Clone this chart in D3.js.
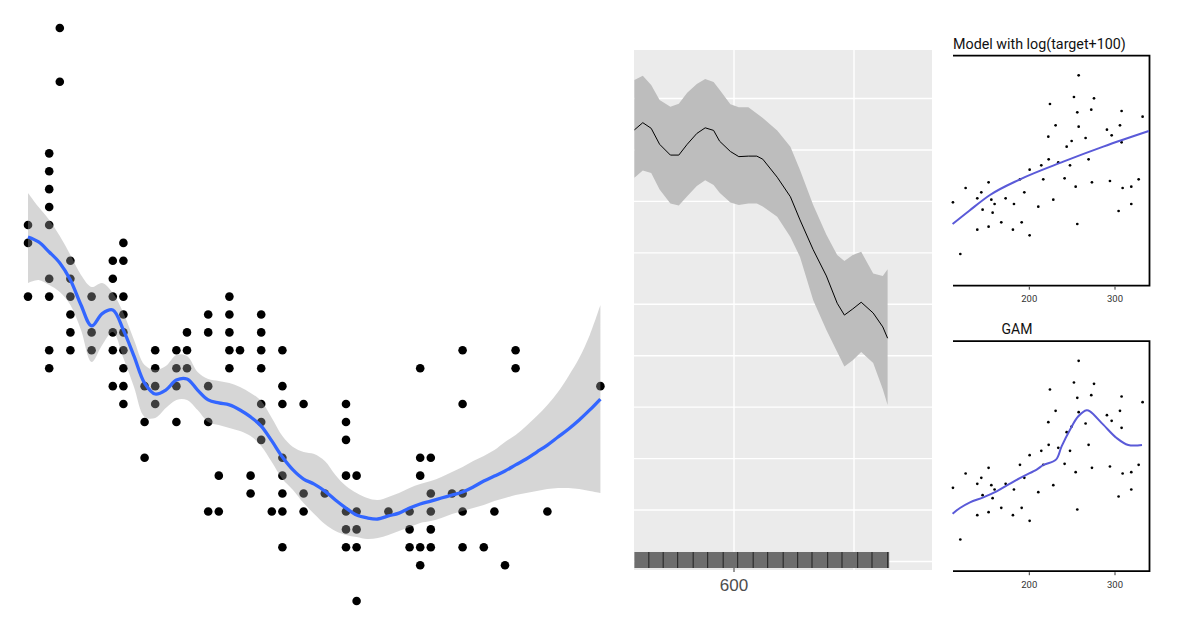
<!DOCTYPE html>
<html><head><meta charset="utf-8">
<script src="https://cdn.jsdelivr.net/npm/d3@7"></script>
<style>body{margin:0;background:#fff;}svg{display:block;}</style>
</head><body>
<script>
// ---------- Left panel: scatter + loess ----------
const leftCols = [0,2,3,4,6,8,9,11,12,14,15,17,18,19,20,21,22,23,24,26,28,30,31,34,36,37,38,40,41,43,44,45,46,49,54];
const leftVals = [
  [21,20,17],[25,24,23,22,21,18,17,14,13],[32,29],[19,18,17,16,15,14],[17,15,14],
  [19,18,17,15,14,12],[20,19,17,16,15,14,13,12,11],[12,10,8],[14,13,12,11],[14,13,12,10],
  [15,14,13],[16,15,12,10,5],[7,5],[17,16,15,14,13],[14],[7,6],[16,15,14,13,11,10,9],[5],
  [14,12,11,8,7,6,5,3],[11,6,5],[6],[11,10,9,7,5,4,3],[7,5,4,3,0],[5],[5,4,3],[13,8,7,3,2],
  [8,6,5,4,3],[6],[14,11,6,5,3],[3],[5],[2],[14,13],[5],[12]
];
const fitK = d3.range(0,55);
const fitL = [20.33,20.05,19.49,18.88,17.93,16.53,15.36,16.05,16.25,15.13,13.68,12.17,11.56,11.78,12.34,12.40,11.78,11.23,11.06,10.95,10.67,10.28,9.77,8.94,8.04,7.32,6.81,6.53,6.14,5.64,5.19,4.80,4.64,4.58,4.75,4.91,5.19,5.42,5.58,5.75,5.92,6.09,6.37,6.70,6.98,7.26,7.60,7.93,8.32,8.71,9.16,9.61,10.11,10.67,11.28];
const upL = [22.79,22.00,21.28,20.38,19.32,18.21,17.54,17.76,17.20,16.08,14.58,13.18,12.90,13.12,13.74,13.68,12.79,12.40,12.29,12.17,11.95,11.62,11.17,10.22,9.21,8.60,8.32,8.21,7.82,7.04,6.42,6.03,5.75,5.64,5.81,6.03,6.31,6.53,6.70,6.93,7.20,7.48,7.82,8.10,8.43,8.88,9.27,9.77,10.33,10.95,11.67,12.57,13.57,14.86,16.53];
const loL = [17.76,17.93,17.65,17.26,16.53,15.13,13.35,14.30,15.02,13.57,11.95,10.28,10.22,10.78,11.23,11.23,10.67,10.00,9.83,9.66,9.49,9.21,8.66,7.76,6.81,6.20,5.47,4.86,4.30,3.91,3.69,3.57,3.46,3.52,3.69,3.91,4.13,4.36,4.47,4.64,4.86,5.03,5.19,5.36,5.58,5.75,5.92,6.03,6.14,6.25,6.31,6.31,6.25,6.14,6.03];

// ---------- Middle panel: smooth with ribbon ----------
const xMid = [517,524,531,538,547,554,561,569,576,583,588,597,604,612,619,624,636,647,655,666,677,686,692,699,706,716,724,728];
const fitM = [8.39,8.53,8.42,8.11,7.90,7.90,8.11,8.32,8.43,8.38,8.17,7.97,7.87,7.88,7.88,7.82,7.47,7.09,6.64,6.06,5.55,5.02,4.79,4.91,5.04,4.83,4.56,4.34];
const upM = [9.36,9.44,9.26,8.97,8.84,8.90,9.11,9.28,9.38,9.32,9.17,8.89,8.83,8.83,8.71,8.62,8.38,8.06,7.61,6.93,6.35,5.96,5.84,5.96,6.02,5.60,5.55,5.68];
const loM = [7.46,7.60,7.55,7.23,6.96,6.92,7.10,7.30,7.41,7.32,7.17,6.98,6.93,6.96,6.96,6.90,6.70,6.31,5.92,5.08,4.50,4.07,3.79,3.91,4.07,3.86,3.35,3.04];
const rugX = [529,541,553,566,578,591,603,616,628,641,653,665,678,690,703,715,728];
const midGridY = [0,1,2,3,4,5,6,7,8,9];
const midGridX = [600,700];
const midTicks = [600];

// ---------- Right panels ----------
const ptsX = [257.6,252.1,275.5,224.1,256.0,272.3,307.7,332.2,230.7,257.6,290.6,305.8,296.1,222.2,265.7,249.4,307.7,243.6,222.6,269.2,233.8,214.0,247.5,200.4,189.1,216.3,241.2,273.1,294.1,327.6,125.7,152.5,254.1,308.9,319.0,194.2,144.0,139.3,155.7,172.4,228.0,110.9,159.5,182.1,145.5,157.2,210.5,319.0,304.2,167.3,191.1,256.0,139.3,152.5,180.9,200.4,119.5];
const ptsY = [420.7,377.4,374.7,363.4,346.7,352.1,349.4,338.1,320.7,318.1,312.1,320.7,300.7,298.1,295.4,289.4,286.7,278.1,252.7,252.7,246.7,240.7,240.7,232.1,212.7,212.7,214.7,206.7,209.4,212.7,195.4,206.7,198.1,195.4,198.1,186.7,186.7,174.7,172.1,174.7,172.1,166.7,163.4,163.4,152.1,146.1,158.1,163.4,149.4,126.7,126.7,123.4,112.1,118.1,112.1,100.7,63.4];
const logX = [110.5,130,154.1,189.1,239.7,286.3,339.6];
const logY = [123.4,150,181.4,212.7,248.1,278.1,309.4];
const gamX = [110.5,119.1,130.8,146.3,161.9,177.4,193.0,208.6,216.3,231.1,237.7,247.5,257.2,266.9,270.8,286.3,301.9,315.5,331.5];
const gamY = [115.1,126.4,137.8,147.8,159.8,175.1,189.8,203.1,212.4,223.1,249.8,283.1,309.8,321.8,319.8,293.1,266.4,252.4,252.4];
const rightTicks = [200,300];
const titles = ["Model with log(target+100)", "GAM"];

const svg = d3.select("body").append("svg").attr("width",1200).attr("height",630);

// ===== Left =====
const xL = d3.scaleLinear().domain([0,54]).range([28,600.4]);
const yL = d3.scaleLinear().domain([0,32]).range([601,28]);
const gL = svg.append("g");
const leftPts = [];
leftCols.forEach((k,i)=>leftVals[i].forEach(v=>leftPts.push([k,v])));
gL.selectAll("circle").data(leftPts).join("circle")
  .attr("cx",d=>xL(d[0])).attr("cy",d=>yL(d[1])).attr("r",4.3).attr("fill","#000");
gL.append("path").datum(fitK)
  .attr("d", d3.area().x(k=>xL(k)).y0((k,i)=>yL(loL[i])).y1((k,i)=>yL(upL[i])).curve(d3.curveCatmullRom))
  .attr("fill","#999999").attr("fill-opacity",0.4);
gL.append("path").datum(fitK)
  .attr("d", d3.line().x(k=>xL(k)).y((k,i)=>yL(fitL[i])).curve(d3.curveCatmullRom))
  .attr("fill","none").attr("stroke","#3366FF").attr("stroke-width",3.3);

// ===== Middle =====
const xM = d3.scaleLinear().domain([500,700]).range([614,854]);
const yM = d3.scaleLinear().domain([0,9]).range([561.5,98.5]);
const gM = svg.append("g");
const mLeft = 634, mRight = 932, mTop = 50, mBot = 570;
gM.append("rect").attr("x",mLeft).attr("y",mTop).attr("width",mRight-mLeft).attr("height",mBot-mTop).attr("fill","#ebebeb");
gM.selectAll("line.h").data(midGridY).join("line").attr("class","h")
  .attr("x1",mLeft).attr("x2",mRight).attr("y1",d=>yM(d)).attr("y2",d=>yM(d))
  .attr("stroke","#fff").attr("stroke-width",1.4);
gM.selectAll("line.v").data(midGridX).join("line").attr("class","v")
  .attr("x1",d=>xM(d)).attr("x2",d=>xM(d)).attr("y1",mTop).attr("y2",mBot)
  .attr("stroke","#fff").attr("stroke-width",1.4);
gM.append("path").datum(xMid)
  .attr("d", d3.area().x(x=>xM(x)).y0((x,i)=>yM(loM[i])).y1((x,i)=>yM(upM[i])).curve(d3.curveLinear))
  .attr("fill","#bdbdbd");
gM.append("path").datum(xMid)
  .attr("d", d3.line().x(x=>xM(x)).y((x,i)=>yM(fitM[i])).curve(d3.curveLinear))
  .attr("fill","none").attr("stroke","#000").attr("stroke-width",1);
gM.append("rect").attr("x",xM(517)).attr("y",552).attr("width",xM(729.3)-xM(517)).attr("height",16).attr("fill","#6d6d6d");
gM.selectAll("line.rug").data(rugX).join("line").attr("class","rug")
  .attr("x1",d=>xM(d)).attr("x2",d=>xM(d)).attr("y1",552).attr("y2",568)
  .attr("stroke","#2e2e2e").attr("stroke-width",1.2);
const mt = gM.selectAll("g.tick").data(midTicks).join("g").attr("class","tick")
  .attr("transform",d=>`translate(${xM(d)},0)`);
mt.append("line").attr("y1",568).attr("y2",572).attr("stroke","#333").attr("stroke-width",1);
mt.append("text").attr("y",591).attr("text-anchor","middle")
  .attr("font-family","Liberation Sans, Arial, sans-serif").attr("font-size",17).attr("fill","#4d4d4d").text(d=>d);

// ===== Right panels =====
const xR = d3.scaleLinear().domain([200,300]).range([1029.3,1115]);
const yR = d3.scaleLinear().domain([0,460]).range([285.7,55.7]);
const curves = [[logX,logY],[gamX,gamY]];
[0,1].forEach(p=>{
  const g = svg.append("g").attr("transform",`translate(0,${p*285.5})`);
  const top = yR.range()[1], bot = yR.range()[0], right = 1149.5, left = 953;
  g.append("path").attr("d",`M${left},${top}H${right}V${bot}H${left}`)
    .attr("fill","none").attr("stroke","#000").attr("stroke-width",1.8);
  g.selectAll("circle").data(ptsX).join("circle")
    .attr("cx",d=>xR(d)).attr("cy",(d,i)=>yR(ptsY[i])).attr("r",1.35).attr("fill","#000");
  const [cx,cy] = curves[p];
  g.append("path").datum(cx)
    .attr("d", d3.line().x(x=>xR(x)).y((x,i)=>yR(cy[i])).curve(p===0?d3.curveMonotoneX:d3.curveCatmullRom))
    .attr("fill","none").attr("stroke","#5a5ad8").attr("stroke-width",2);
  const t = g.selectAll("g.tick").data(rightTicks).join("g").attr("class","tick")
    .attr("transform",d=>`translate(${xR(d)},0)`);
  t.append("line").attr("y1",bot+1).attr("y2",bot+4).attr("stroke","#333");
  t.append("text").attr("y",bot+16.5).attr("text-anchor","middle")
    .attr("font-family","Roboto, Liberation Sans, sans-serif").attr("font-size",9.5).attr("fill","#333").text(d=>d);
});
svg.append("text").attr("x",953).attr("y",49).attr("font-family","Roboto, Liberation Sans, sans-serif")
  .attr("font-size",14.3).attr("fill","#111").text(titles[0]);
svg.append("text").attr("x",1017).attr("y",333.5).attr("text-anchor","middle").attr("font-family","Roboto, Liberation Sans, sans-serif")
  .attr("font-size",14).attr("fill","#111").text(titles[1]);
</script>
</body></html>
